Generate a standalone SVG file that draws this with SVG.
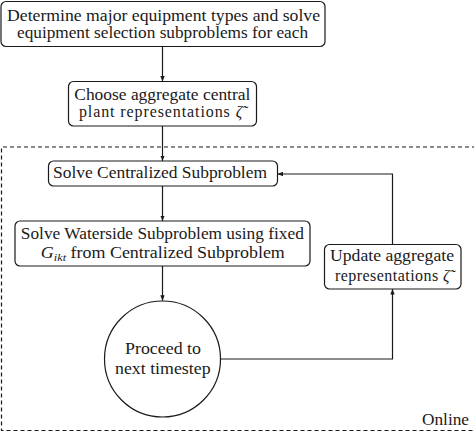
<svg xmlns="http://www.w3.org/2000/svg" width="474" height="432" viewBox="0 0 474 432">
<defs>
<marker id="ah" viewBox="0 0 10 8" refX="10" refY="4" markerWidth="5.5" markerHeight="4.4" orient="auto" markerUnits="userSpaceOnUse">
<path d="M0,0 L10,4 L0,8 Z" fill="#1a1a1a"/>
</marker>
<style>
.box{fill:#fff;stroke:#1a1a1a;stroke-width:1.2}
.t{font-family:'Liberation Serif','DejaVu Serif',serif;font-size:16px;fill:#1a1a1a;text-anchor:middle}
.m{font-style:italic}
.c{fill:none;stroke:#1a1a1a;stroke-width:1.2}
.dash{fill:none;stroke:#1a1a1a;stroke-width:1.2;stroke-dasharray:4 3}
</style>
</defs>
<rect width="474" height="432" fill="#fff"/>
<path class="dash" d="M476,147 H1.5 V430.5 H476"/>
<g id="connectors">
<path class="c" d="M162.5,46.5 V81.5" marker-end="url(#ah)"/>
<path class="c" d="M162.5,126 V161" marker-end="url(#ah)"/>
<path class="c" d="M162.5,186 V221" marker-end="url(#ah)"/>
<path class="c" d="M162.5,266 V300.8" marker-end="url(#ah)"/>
<path class="c" d="M220.5,359 H392.5 V289" marker-end="url(#ah)"/>
<path class="c" d="M392.5,244.5 V174 H277.5" marker-end="url(#ah)"/>
</g>
<g id="n1">
<rect class="box" x="1" y="1.5" width="324" height="45" rx="5"/>
<text class="t" x="163.5" y="20.5" textLength="313" lengthAdjust="spacingAndGlyphs">Determine major equipment types and solve</text>
<text class="t" x="162.5" y="38" textLength="291" lengthAdjust="spacingAndGlyphs">equipment selection subproblems for each</text>
</g>
<g id="n2">
<rect class="box" x="68.5" y="81.5" width="188" height="44.5" rx="5"/>
<text class="t" x="162.3" y="99.5" textLength="176" lengthAdjust="spacingAndGlyphs">Choose aggregate central</text>
<text class="t" x="161" y="117" letter-spacing="0.9">plant representations <tspan class="m">ζ̃</tspan></text>
</g>
<g id="n3">
<rect class="box" x="48.5" y="161" width="229" height="25" rx="5"/>
<text class="t" x="160" y="177.5" textLength="214" lengthAdjust="spacingAndGlyphs">Solve Centralized Subproblem</text>
</g>
<g id="n4">
<rect class="box" x="15" y="221" width="295" height="45" rx="5"/>
<text class="t" x="162.3" y="238.5" textLength="283" lengthAdjust="spacingAndGlyphs">Solve Waterside Subproblem using fixed</text>
<text class="t" x="162.8" y="257.5" textLength="244" lengthAdjust="spacingAndGlyphs"><tspan class="m">G</tspan><tspan class="m" font-size="11" dy="3">ikt</tspan><tspan dy="-3"> from Centralized Subproblem</tspan></text>
</g>
<g id="n5">
<rect class="box" x="324.5" y="244.5" width="136.5" height="44.5" rx="5"/>
<text class="t" x="392" y="261" textLength="124" lengthAdjust="spacingAndGlyphs">Update aggregate</text>
<text class="t" x="392.5" y="280.5" letter-spacing="0.45">representations <tspan class="m">ζ̃</tspan></text>
</g>
<g id="n6">
<circle class="box" cx="162.5" cy="359" r="58"/>
<text class="t" x="163" y="353.5" textLength="76" lengthAdjust="spacingAndGlyphs">Proceed to</text>
<text class="t" x="162.8" y="373.5" textLength="95.5" lengthAdjust="spacingAndGlyphs">next timestep</text>
</g>
<text class="t" x="445.5" y="425" textLength="47" lengthAdjust="spacingAndGlyphs">Online</text>
</svg>
